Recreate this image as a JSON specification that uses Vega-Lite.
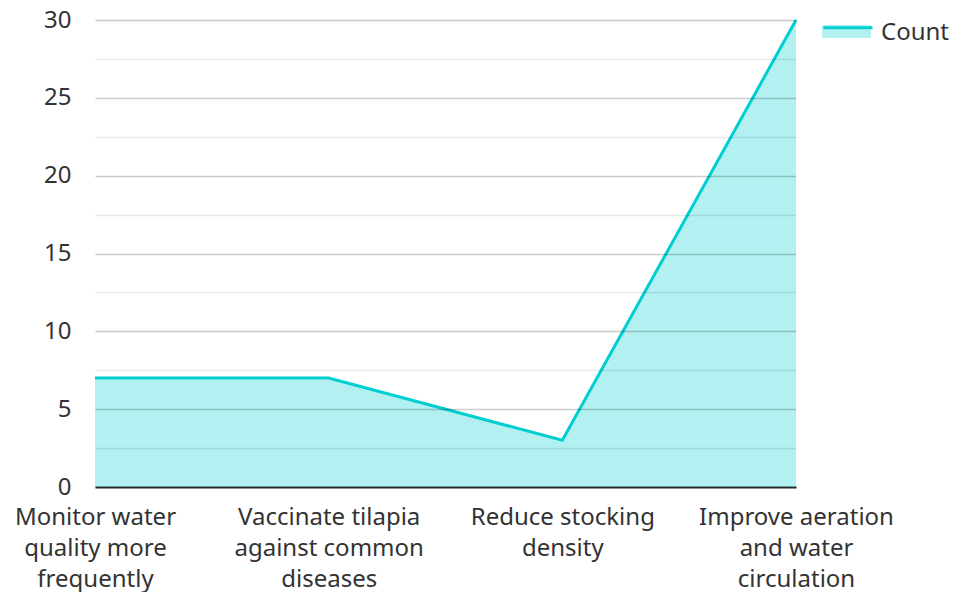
{
  "$schema": "https://vega.github.io/schema/vega-lite/v6.json",
  "autosize": "none",
  "width": 701,
  "height": 467,
  "padding": {"left": 95, "top": 20, "right": 157, "bottom": 105},
  "background": "white",
  "config": {
    "view": {"stroke": null},
    "font": "Noto Sans",
    "axis": {"labelFont": "Noto Sans", "labelFontSize": 24, "labelColor": "#333333", "title": null},
    "legend": {"labelFont": "Noto Sans", "labelFontSize": 24, "labelColor": "#333333"}
  },
  "data": {
    "values": [
      {"action": "Monitor water quality more frequently", "count": 7, "series": "Count", "lineSeries": "Count"},
      {"action": "Vaccinate tilapia against common diseases", "count": 7, "series": "Count", "lineSeries": "Count"},
      {"action": "Reduce stocking density", "count": 3, "series": "Count", "lineSeries": "Count"},
      {"action": "Improve aeration and water circulation", "count": 30, "series": "Count", "lineSeries": "Count"}
    ]
  },
  "encoding": {
    "x": {
      "field": "action",
      "type": "nominal",
      "sort": null,
      "scale": {"type": "point", "padding": 0},
      "axis": {
        "labelAngle": 0,
        "ticks": false,
        "grid": false,
        "domainColor": "#333333",
        "domainWidth": 2,
        "labelPadding": 18,
        "labelLimit": 0,
        "labelOverlap": false,
        "labelLineHeight": 31,
        "labelBaseline": "top",
        "labelExpr": "datum.label == 'Monitor water quality more frequently' ? ['Monitor water','quality more','frequently'] : datum.label == 'Vaccinate tilapia against common diseases' ? ['Vaccinate tilapia','against common','diseases'] : datum.label == 'Reduce stocking density' ? ['Reduce stocking','density'] : ['Improve aeration','and water','circulation']"
      }
    },
    "y": {
      "field": "count",
      "type": "quantitative",
      "scale": {"domain": [0, 30], "nice": false},
      "axis": {
        "values": [0, 2.5, 5, 7.5, 10, 12.5, 15, 17.5, 20, 22.5, 25, 27.5, 30],
        "labelExpr": "datum.value % 5 === 0 ? datum.label : ''",
        "ticks": false,
        "domain": false,
        "labelPadding": 24,
        "zindex": 1,
        "gridColor": "#000000",
        "gridOpacity": {"condition": {"test": "datum.value % 5 === 0", "value": 0.2}, "value": 0.09},
        "gridWidth": 1.5
      }
    }
  },
  "layer": [
    {
      "mark": {"type": "area", "fillOpacity": 0.3},
      "encoding": {
        "fill": {
          "field": "series",
          "type": "nominal",
          "scale": {"domain": ["Count"], "range": ["#00CED1"]},
          "legend": {
            "title": null,
            "orient": "none",
            "legendX": 727,
            "legendY": -13,
            "padding": 0,
            "symbolType": "M-1,-0.27H1V0.27H-1Z",
            "symbolSize": 2401,
            "symbolOpacity": 0.3,
            "symbolStrokeWidth": 0,
            "labelOffset": 7,
            "labelExpr": "''"
          }
        }
      }
    },
    {
      "mark": {"type": "line", "strokeWidth": 3},
      "encoding": {
        "stroke": {
          "field": "lineSeries",
          "type": "nominal",
          "scale": {"range": ["#00CED1"]},
          "legend": {
            "title": null,
            "orient": "none",
            "legendX": 727,
            "legendY": -13,
            "padding": 0,
            "symbolType": "M-1,-0.21H1",
            "symbolSize": 2401,
            "symbolStrokeWidth": 3,
            "labelOffset": 7
          }
        }
      }
    }
  ]
}
